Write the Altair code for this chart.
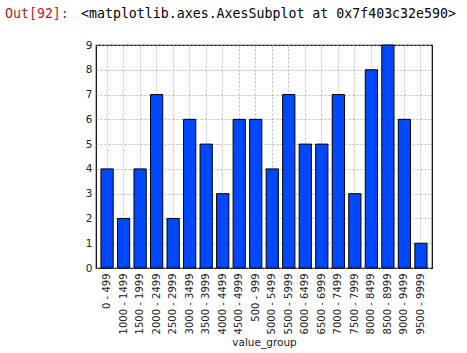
import altair as alt
import pandas as pd

categories = ["0 - 499", "1000 - 1499", "1500 - 1999", "2000 - 2499", "2500 - 2999",
              "3000 - 3499", "3500 - 3999", "4000 - 4499", "4500 - 4999", "500 - 999",
              "5000 - 5499", "5500 - 5999", "6000 - 6499", "6500 - 6999", "7000 - 7499",
              "7500 - 7999", "8000 - 8499", "8500 - 8999", "9000 - 9499", "9500 - 9999"]
counts = [4, 2, 4, 7, 2, 6, 5, 3, 6, 6, 4, 7, 5, 5, 7, 3, 8, 9, 6, 1]
y_ticks = list(range(0, 10))

prompt_text = ["Out[92]:"]
repr_text = ["<matplotlib.axes.AxesSubplot at 0x7f403c32e590>"]

df = pd.DataFrame({"value_group": categories, "count": counts})

x_enc = alt.X("value_group:N", sort=None, title="value_group",
              scale=alt.Scale(paddingInner=0.26, paddingOuter=0.3),
              axis=alt.Axis(labelAngle=-90, labelAlign="right", labelBaseline="middle",
                            labelFontSize=10, labelFont="DejaVu Sans", labelColor="#222222",
                            labelPadding=5, ticks=False, domain=False,
                            grid=True, gridDash=[2, 2], gridColor="#aaaaaa", gridWidth=0.8,
                            titleFont="DejaVu Sans", titleFontSize=10.5, titleFontWeight="normal",
                            titleColor="#222222", titlePadding=4))
y_enc = alt.Y("count:Q", title=None,
              scale=alt.Scale(domain=[0, 9], nice=False),
              axis=alt.Axis(values=y_ticks, labelFontSize=10.5, labelFont="DejaVu Sans",
                            labelColor="#222222", labelPadding=4, ticks=False, domain=False,
                            grid=True, gridDash=[2, 2], gridColor="#aaaaaa", gridWidth=0.8))

bars = alt.Chart(df).mark_bar(color="#0048ff", stroke="black", strokeWidth=1).encode(
    x=x_enc, y=y_enc
)

t1 = alt.Chart(pd.DataFrame({"t": prompt_text})).mark_text(
    align="left", baseline="alphabetic", font="DejaVu Sans Mono", fontSize=13.25, color="#a8272a"
).encode(text="t:N", x=alt.value(-91), y=alt.value(-27))

t2 = alt.Chart(pd.DataFrame({"t": repr_text})).mark_text(
    align="left", baseline="alphabetic", font="DejaVu Sans Mono", fontSize=13.25, color="#000000"
).encode(text="t:N", x=alt.value(-15), y=alt.value(-27))

chart = alt.layer(bars, t1, t2).properties(
    width=336, height=223,
    autosize=alt.AutoSizeParams(type="none"),
    padding={"left": 96, "top": 45, "right": 35, "bottom": 85},
    background="white",
).configure_view(stroke="black", strokeWidth=1.2)

chart.save("out.html", embed_options={"renderer": "svg", "actions": False})
